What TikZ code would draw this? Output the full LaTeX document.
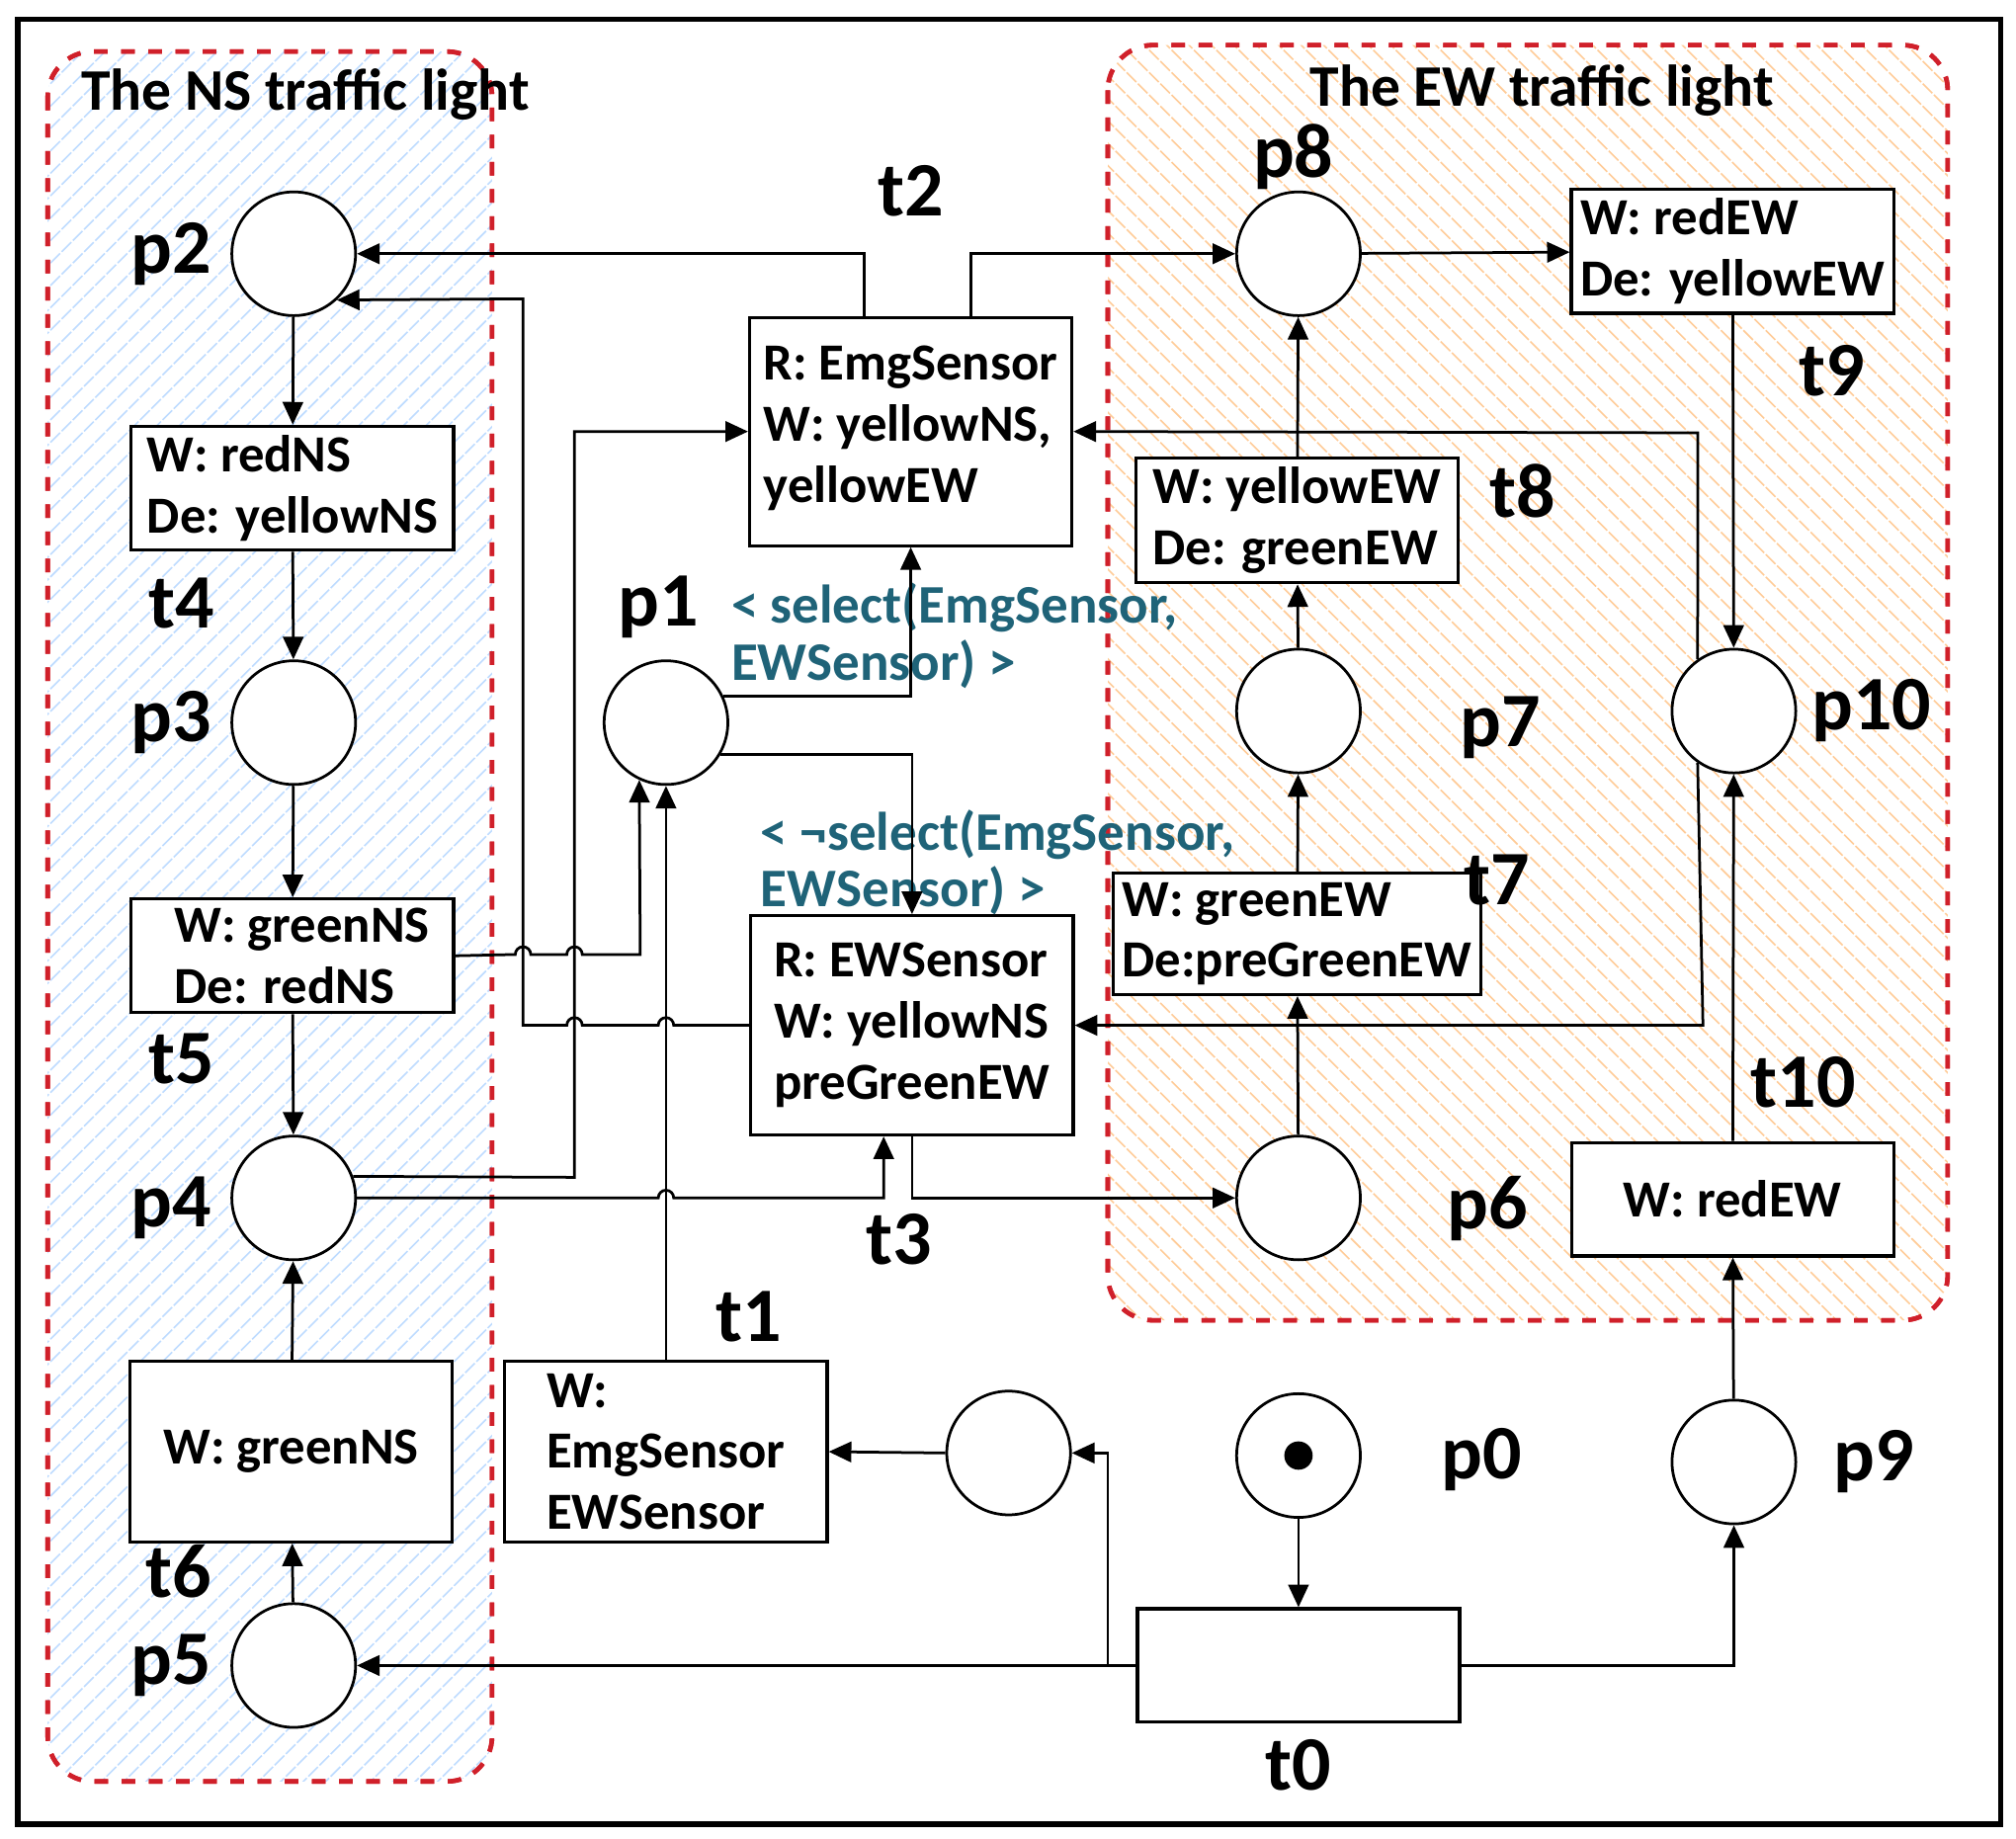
\documentclass[tikz,border=0pt]{standalone}
\usepackage{fontspec}
\setmainfont{Carlito}
\usetikzlibrary{arrows.meta,patterns.meta}
\definecolor{guard}{HTML}{1F6378}
\definecolor{grpred}{HTML}{D0202A}
\begin{document}
\begin{tikzpicture}[x=0.01cm,y=-0.01cm,
  place/.style={circle,draw,line width=0.6pt,minimum size=0.96cm,inner sep=0pt,fill=white},
  trans/.style={draw,line width=0.7pt,fill=white,minimum width=2.5cm,align=left,inner sep=2pt,
    font=\fontsize{11.5}{13.5}\selectfont\bfseries},
  lbl/.style={font=\fontsize{17}{18}\selectfont\bfseries},
  grd/.style={text=guard,align=left,font=\fontsize{12}{12.5}\selectfont\bfseries,inner sep=0pt},
  title/.style={font=\fontsize{13}{15}\selectfont\bfseries},
  arc/.style={line width=0.6pt,-{Triangle[length=5pt,width=4.5pt]}},
  group/.style={draw=grpred,dashed,line width=1pt,rounded corners=0.35cm}]
\useasboundingbox (0,0) rectangle (1565,1427);
\draw[line width=1.2pt] (14,15) rectangle (1553,1416);
% groups
\path[group,pattern={Lines[angle=45,distance=3.5pt,line width=0.35pt]},pattern color=cyan!45!blue!25]
  (37,40) rectangle (382,1383);
\path[group,pattern={Lines[angle=-45,distance=3.5pt,line width=0.35pt]},pattern color=orange!40]
  (860,35) rectangle (1512,1025);
\draw[group] (37,40) rectangle (382,1383);
\draw[group] (860,35) rectangle (1512,1025);
\node[title] (nsT) at (237,73) {The NS traffic light};
\node[title] (ewT) at (1197,70) {The EW traffic light};
% places
\node[place] (p2) at (228,197) {};
\node[place] (p3) at (228,561) {};
\node[place] (p4) at (228,930) {};
\node[place] (p5) at (228,1293) {};
\node[place] (p1) at (517,561) {};
\node[place] (p8) at (1008,197) {};
\node[place] (p7) at (1008,552) {};
\node[place] (p6) at (1008,930) {};
\node[place] (p10) at (1346,552) {};
\node[place] (p9) at (1346,1135) {};
\node[place] (p0) at (1008,1130) {};
\fill (p0) circle (0.11cm);
\node[place] (pe) at (783,1128) {};
\node[lbl] (lp2) at (133,197) {p2};
\node[lbl] (lp3) at (133,561) {p3};
\node[lbl] (lp4) at (133,938) {p4};
\node[lbl] (lp5) at (133,1293) {p5};
\node[lbl] (lp1) at (511,471) {p1};
\node[lbl] (lp8) at (1004,122) {p8};
\node[lbl] (lp7) at (1165,565) {p7};
\node[lbl] (lp6) at (1155,938) {p6};
\node[lbl] (lp10) at (1453,552) {p10};
\node[lbl] (lp9) at (1455,1135) {p9};
\node[lbl] (lp0) at (1150,1133) {p0};
% transitions
\node[trans,minimum height=0.86cm] (t4) at (227,379) {W: redNS\\De: yellowNS};
\node[trans,minimum height=0.88cm] (t5) at (227,742) {\hspace{0.15cm}W: greenNS\\\hspace{0.15cm}De: redNS};
\node[trans,minimum height=1.4cm] (t6) at (226,1127) {W: greenNS};
\node[trans,minimum height=1.77cm] (t2) at (707,335) {};
\node[anchor=north west,align=left,inner sep=0pt,font=\fontsize{11.5}{13.5}\selectfont\bfseries] (t2txt) at (592,268) {R: EmgSensor\\W: yellowNS,\\yellowEW};
\node[trans,minimum height=1.7cm] (t3) at (708,796) {R: EWSensor\\W: yellowNS\\preGreenEW};
\node[trans,minimum height=1.4cm] (t1) at (517,1127) {W:\\EmgSensor\\EWSensor};
\node[trans,minimum height=0.87cm] (t8) at (1007,404) {W: yellowEW\\De: greenEW};
\node[trans,minimum height=0.89cm] (t7) at (1007,725) {W: greenEW\\De:preGreenEW};
\node[trans,minimum height=0.87cm] (t9) at (1345,195) {W: redEW\\De: yellowEW};
\node[trans,minimum height=0.88cm] (t10) at (1345,931) {W: redEW};
\node[trans,minimum height=0.88cm] (t0) at (1008,1293) {};
\node[lbl] (lt4) at (141,468) {t4};
\node[lbl] (lt5) at (141,822) {t5};
\node[lbl] (lt6) at (139,1220) {t6};
\node[lbl] (lt2) at (707,148) {t2};
\node[lbl] (lt3) at (698,962) {t3};
\node[lbl] (lt1) at (581,1022) {t1};
\node[lbl] (lt8) at (1182,381) {t8};
\node[lbl] (lt7) at (1162,683) {t7};
\node[lbl] (lt9) at (1422,288) {t9};
\node[lbl] (lt10) at (1400,840) {t10};
\node[lbl] (lt0) at (1008,1370) {t0};
% guards
\node[grd,anchor=north west] (g1) at (567,452) {< select(EmgSensor,\\EWSensor) >};
\node[grd,anchor=north west] (g2) at (590,628) {< \textlnot select(EmgSensor,\\EWSensor) >};
% arcs, NS side
\draw[arc] (p2) -- (t4);
\draw[arc] (t4) -- (p3);
\draw[arc] (p3) -- (t5);
\draw[arc] (t5) -- (p4);
\draw[arc] (t6) -- (p4);
\draw[arc] (p5) -- (t6);
% t2 outputs
\draw[arc] (t2.north -| 671,0) |- (p2.east);
\draw[arc] (t2.north -| 754,0) |- (p8.west);
% t3 -> p2 with hops
\draw[arc] (t3.west) -- (523,796) arc[start angle=0,end angle=180,radius=0.06cm]
  -- (452,796) arc[start angle=0,end angle=180,radius=0.06cm]
  -- (406,796) -- (406,232) -- (p2.-47);
% p1 -> t2, p1 -> t3
\draw[arc] (p1.25) -| (t2.south);
\draw[arc] (p1.-30) -| (t3.north);
% p4 -> t2, p4 -> t3
\draw[arc] (p4.20) -- (446,914) |- (t2.west);
\draw[arc] (p4.east) -- (511,930) arc[start angle=180,end angle=0,radius=0.06cm] -- (686,930) -- (t3.south -| 686,0);
% t5 -> p1 with hops
\draw[arc] (t5.east) -- (400,741) arc[start angle=180,end angle=0,radius=0.06cm]
  -- (440,741) arc[start angle=180,end angle=0,radius=0.06cm]
  -- (497,741) -- (p1.-115);
\draw[arc] (t1.north) -- (p1.south);
% EW side
\draw[arc] (t3.south) |- (p6.west);
\draw[arc] (p6) -- (t7);
\draw[arc] (t7) -- (p7);
\draw[arc] (p7) -- (t8);
\draw[arc] (t8) -- (p8);
\draw[arc] (p8) -- (t9);
\draw[arc] (t9) -- (p10);
\draw[arc] (p10.125) -- (1318,336) -- (t2.east);
\draw[arc] (p10.-125) -- (1322,796) -- (t3.east);
\draw[arc] (t10) -- (p10);
\draw[arc] (p9) -- (t10);
% t0
\draw[arc] (p0) -- (t0);
\draw[arc] (t0.east) -| (p9.south);
\draw[arc] (t0.west) -- (p5.east);
\draw[arc] (860,1293) |- (pe.east);
\draw[arc] (pe.west) -- (t1.east);
\end{tikzpicture}
\end{document}
